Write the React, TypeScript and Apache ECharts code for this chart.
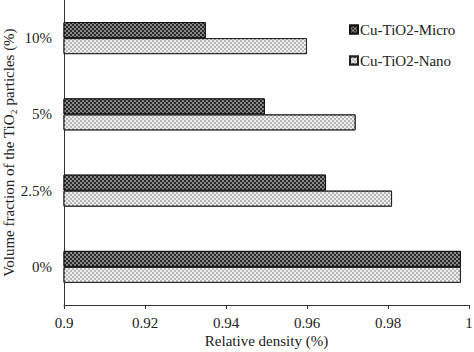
import React, { useEffect, useRef } from "react";
import * as echarts from "echarts";

const categories = ["0%", "2.5%", "5%", "10%"];
const microValues = [0.998, 0.9647, 0.9496, 0.935];
const nanoValues = [0.998, 0.981, 0.972, 0.96];
const xTicks = { min: 0.9, max: 1.0, interval: 0.02 };

export default function App() {
  const ref = useRef<HTMLDivElement>(null);
  useEffect(() => {
    if (!ref.current) return;
    const chart = echarts.init(ref.current, undefined, { renderer: "svg" });
    const font = "'Liberation Serif', 'Times New Roman', serif";
    chart.setOption({
      animation: false,
      textStyle: { fontFamily: font, color: "#222" },
      grid: { left: 64, right: 5, top: 0, bottom: 47, outerBoundsMode: "none", containLabel: false },
      legend: {
        orient: "vertical",
        left: 344,
        top: 17,
        itemWidth: 8,
        itemHeight: 8,
        itemGap: 16,
        icon: "rect",
        data: ["Cu-TiO2-Micro", "Cu-TiO2-Nano"],
        textStyle: { fontFamily: font, fontSize: 15, color: "#222", padding: [0, 0, 0, -3] },
      },
      xAxis: {
        type: "value",
        min: xTicks.min,
        max: xTicks.max,
        interval: xTicks.interval,
        axisLine: { show: true, lineStyle: { color: "#333", width: 1 } },
        axisTick: { show: true, length: 4, lineStyle: { color: "#333" } },
        splitLine: { show: false },
        axisLabel: {
          fontFamily: font,
          fontSize: 15,
          color: "#222",
          margin: 10,
          formatter: (v: number) => String(parseFloat(v.toFixed(2))),
        },
        name: "Relative density (%)",
        nameLocation: "middle",
        nameGap: 28,
        nameMoveOverlap: false,
        nameTextStyle: { fontFamily: font, fontSize: 15, color: "#222" },
      },
      yAxis: {
        type: "category",
        data: categories,
        axisLine: { show: true, lineStyle: { color: "#333", width: 1 } },
        axisTick: { show: false },
        axisLabel: { fontFamily: font, fontSize: 15, color: "#222", margin: 12 },
        name: "Volume fraction of the TiO₂ particles (%)",
        nameLocation: "middle",
        nameGap: 48,
        nameRotate: 90,
        nameMoveOverlap: false,
        nameTextStyle: { fontFamily: font, fontSize: 15, color: "#222" },
      },
      series: [
        {
          name: "Cu-TiO2-Micro",
          type: "bar",
          data: microValues,
          barWidth: 16,
          barGap: "0%",
          itemStyle: {
            color: "#2a2a2a",
            borderColor: "#111",
            borderWidth: 1,
            decal: {
              symbol: "rect",
              symbolSize: 1,
              color: "rgba(200,200,200,0.6)",
              dashArrayX: [[2, 2], [0, 2, 2, 0]],
              dashArrayY: [2, 0],
            },
          },
        },
        {
          name: "Cu-TiO2-Nano",
          type: "bar",
          data: nanoValues,
          barWidth: 16,
          barGap: "0%",
          itemStyle: {
            color: "#b8b8b8",
            borderColor: "#222",
            borderWidth: 1,
            decal: {
              symbol: "rect",
              symbolSize: 1,
              color: "rgba(255,255,255,0.75)",
              dashArrayX: [[2, 2], [0, 2, 2, 0]],
              dashArrayY: [2, 0],
            },
          },
        },
      ],
    });
    return () => chart.dispose();
  }, []);
  return (
    <div
      ref={ref}
      style={{ position: "fixed", left: 0, top: 0, width: 474, height: 352, background: "#fff" }}
    />
  );
}
